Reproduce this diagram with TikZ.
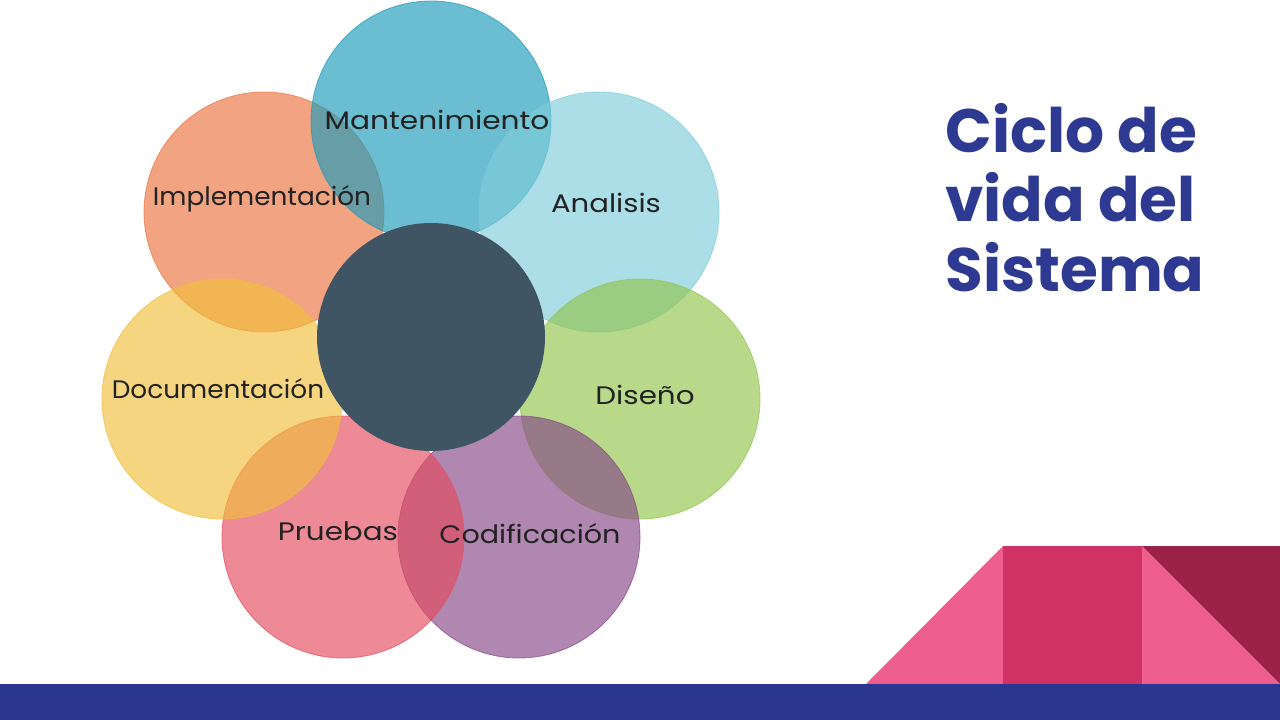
\documentclass[tikz,border=0pt]{standalone}
\usepackage{fontspec}
\usepackage{graphicx}
\setmainfont{Poppins}
\definecolor{cImpl}{HTML}{EB733F}
\definecolor{cMant}{HTML}{1C9BBA}
\definecolor{cAnal}{HTML}{7ECDD9}
\definecolor{cDise}{HTML}{92C54B}
\definecolor{cCodi}{HTML}{864886}
\definecolor{cPrue}{HTML}{E54B5E}
\definecolor{cDocu}{HTML}{F1BF3C}
\definecolor{cCenter}{HTML}{3F5563}
\definecolor{cTitle}{HTML}{2E3A92}
\definecolor{cBar}{HTML}{2B368E}
\definecolor{cPink}{HTML}{EE5F8F}
\definecolor{cRose}{HTML}{D03266}
\definecolor{cMaroon}{HTML}{9C2149}
\definecolor{cText}{HTML}{222222}
\newcommand\hstretch[2]{\scalebox{#1}[1]{#2}}
\tikzset{
  petal/.style={circle, inner sep=0pt, minimum size=240*0.75pt, fill=#1, fill opacity=0.65, draw=#1, draw opacity=0.7, line width=0.6pt},
  lbl/.style={text=cText, font=\fontsize{19}{22}\selectfont, inner sep=0pt, anchor=center},
  titletext/.style={text=cTitle, font=\fontsize{46}{52}\selectfont\bfseries, align=left, anchor=north west, inner sep=0pt},
}
\begin{document}
\begin{tikzpicture}[x=0.75pt,y=-0.75pt]
\useasboundingbox (0,0) rectangle (1280,720);
\fill[white] (0,0) rectangle (1280,720);
% petals
\node[petal=cImpl] (impl) at (264,212) {};
\node[petal=cMant] (mant) at (431,121) {};
\node[petal=cAnal] (anal) at (599,212) {};
\node[petal=cDise] (dise) at (640,399) {};
\node[petal=cCodi, minimum size=242*0.75pt] (codi) at (519,537) {};
\node[petal=cPrue, minimum size=242*0.75pt] (prue) at (343,537) {};
\node[petal=cDocu] (docu) at (222,399) {};
\node[circle, inner sep=0pt, minimum size=228*0.75pt, fill=cCenter] (center) at (431,337) {};
% labels
\node[lbl] (lmant) at (437,120) {\hstretch{1.17}{Mantenimiento}};
\node[lbl] (limpl) at (262,199) {\hstretch{1.04}{Implementación}};
\node[lbl] (lanal) at (606,203) {\hstretch{1.15}{Analisis}};
\node[lbl] (ldise) at (645,395) {\hstretch{1.16}{Diseño}};
\node[lbl] (lcodi) at (530,534) {\hstretch{1.13}{Codificación}};
\node[lbl] (lprue) at (338,531) {\hstretch{1.16}{Pruebas}};
\node[lbl] (ldocu) at (218,389) {\hstretch{1.04}{Documentación}};
% title
\node[titletext] (title) at (945,103) {Ciclo de\\vida del\\Sistema};
% decoration bottom right
\fill[cPink] (866,684) -- (1003,546) -- (1003,684) -- cycle;
\fill[cRose] (1003,546) rectangle (1142,684);
\fill[cPink] (1142,546) -- (1280,684) -- (1142,684) -- cycle;
\fill[cMaroon] (1142,546) -- (1280,546) -- (1280,684) -- cycle;
\fill[cBar] (0,684) rectangle (1280,720);
\end{tikzpicture}
\end{document}
